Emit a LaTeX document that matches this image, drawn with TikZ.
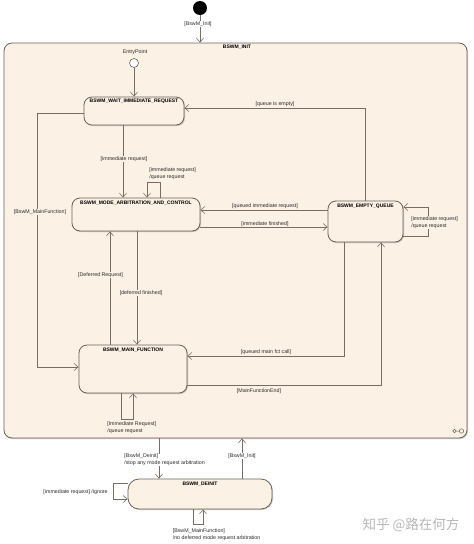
\documentclass[tikz,border=0pt]{standalone}
\usepackage{fontspec}
\setmainfont{Liberation Sans}
\newfontfamily\cjk{Noto Sans CJK SC}
\usetikzlibrary{arrows.meta,shadows}
\definecolor{linec}{HTML}{776D62}
\definecolor{bord}{HTML}{6B6258}
\definecolor{bgc}{HTML}{FBF1E5}
\definecolor{txt}{HTML}{2B2B2B}
\begin{document}
\begin{tikzpicture}[x=1pt,y=-1pt,
 state/.style={draw=bord, line width=0.8pt, fill=bgc, rounded corners=8pt, rectangle, inner sep=0pt,
   drop shadow={shadow xshift=1pt,shadow yshift=-1pt,fill=black!45,opacity=0.45}},
 title/.style={font=\fontsize{5}{6}\selectfont\bfseries, text=black, inner sep=0pt, anchor=north},
 lab/.style={font=\fontsize{5.3}{6.8}\selectfont, text=txt, inner sep=0.6pt, align=left},
 labf/.style={lab, fill=bgc},
 labw/.style={lab, fill=white},
 arr/.style={draw=linec, line width=0.6pt, -{Straight Barb[length=4pt,width=7pt]}},
]
\useasboundingbox (0,0) rectangle (474,544);
\fill[white] (0,0) rectangle (474,544);

% helper coordinates
\foreach \n/\v in {c37/37,c110/110,c113/113,c121/121,c123/123,c133/133,c137/137,c147/147,c159/159,c160/160,c193/193,c203/203,c242/242,c344/344,c381/381,c428/428}
  {\coordinate (\n) at (\v,0);}
\foreach \n/\v in {r108/108,r113/113,r182/182,r207/207,r210/210,r227/227,r236/236,r356/356,r367/367,r385/385,r419/419,r483/483,r499/499,r524/524}
  {\coordinate (\n) at (0,\v);}

% composite state
\node[state, minimum width=463pt, minimum height=395pt] (init) at (235.5,240.5) {};
\node[title] (initT) at (237,45) {BSWM\_INIT};
\draw[bord, line width=0.5pt] (454.5,431) circle[radius=1.8pt] (456.3,431) -- (459.2,431) (461.5,431) circle[radius=2.2pt];

% pseudo states
\node[circle, fill=black, minimum size=14pt, inner sep=0pt] (start) at (200,8) {};
\node[circle, draw=bord, line width=0.6pt, fill=white, minimum size=9pt, inner sep=0pt] (entry) at (134,63) {};
\node[lab] (entryL) at (135,52) {EntryPoint};

% states
\node[state, minimum width=100pt, minimum height=28pt] (wait) at (134,111) {};
\node[title] (waitT) at ([yshift=-2pt]wait.north) {BSWM\_WAIT\_IMMEDIATE\_REQUEST};
\node[state, minimum width=128pt, minimum height=33pt] (mode) at (136,214.5) {};
\node[title] (modeT) at ([yshift=-3pt]mode.north) {BSWM\_MODE\_ARBITRATION\_AND\_CONTROL};
\node[state, minimum width=75pt, minimum height=41pt] (empty) at (365.5,221.5) {};
\node[title] (emptyT) at ([yshift=-3pt]empty.north) {BSWM\_EMPTY\_QUEUE};
\node[state, minimum width=108pt, minimum height=48pt] (main) at (133,369) {};
\node[title] (mainT) at ([yshift=-3pt]main.north) {BSWM\_MAIN\_FUNCTION};
\node[state, rounded corners=11pt, minimum width=144pt, minimum height=30pt] (deinit) at (200,494) {};
\node[title] (deinitT) at ([yshift=-3pt]deinit.north) {BSWM\_DEINIT};

% connectors
\draw[arr] (start) -- (start |- init.north);
\node[labw] (l1) at (198,24) {[BswM\_Init]};

\draw[arr] (entry) -- (entry |- wait.north);

\draw[arr] (empty.north) -- (empty.north |- r108) -- (wait.east |- r108);
\node[lab] (l2) at (275,104.5) {[queue is empty]};

\draw[arr] (wait.west |- r113) -- (c37 |- r113) -- (c37 |- r367) -- (main.west |- r367);
\node[labf] (l3) at (40,212) {[BswM\_MainFunction]};

\draw[arr] (wait.south -| c123) -- (mode.north -| c123);
\node[labf] (l4) at (124,159) {[immediate request]};

\draw[arr] (mode.north -| c160) -- (c160 |- r182) -- (c147 |- r182) -- (mode.north -| c147);
\node[lab, anchor=west] (l5) at (148.5,173.5) {[immediate request]\\/queue request};

\draw[arr] (empty.west |- r210) -- (mode.east |- r210);
\node[lab] (l6) at (265,206.5) {[queued immediate request]};

\draw[arr] (mode.east |- r227) -- (empty.west |- r227);
\node[lab] (l7) at (265,224) {[immediate finished]};

\draw[arr] (empty.east |- r236) -- (c428 |- r236) -- (c428 |- r207) -- (empty.east |- r207);
\node[labf, anchor=west] (l8) at (410.5,222.5) {[immediate request]\\/queue request};

\draw[arr] (empty.south -| c344) -- (c344 |- r356) -- (main.east |- r356);
\node[lab] (l9) at (266,352.5) {[queued main fct call]};

\draw[arr] (main.east |- r385) -- (c381 |- r385) -- (empty.south -| c381);
\node[lab] (l10) at (259,391) {[MainFunctionEnd]};

\draw[arr] (main.north -| c110) -- (mode.south -| c110);
\node[labf] (l11) at (100.5,275) {[Deferred Request]};

\draw[arr] (mode.south -| c137) -- (main.north -| c137);
\node[labf] (l12) at (141,293) {[deferred finished]};

\draw[arr] (main.south -| c121) -- (c121 |- r419) -- (c133 |- r419) -- (main.south -| c133);
\node[lab, anchor=west] (l13) at (106.5,428) {[Immediate Request]\\/queue request};

\draw[arr] (init.south -| c159) -- (deinit.north -| c159);
\node[labw, anchor=west] (l14) at (123.5,460) {[BswM\_Deinit]\\/stop any mode request arbitration};

\draw[arr] (deinit.north -| c242) -- (init.south -| c242);
\node[labw] (l15) at (242,456) {[BswM\_Init]};

\draw[arr] (deinit.west |- r483) -- (c113 |- r483) -- (c113 |- r499) -- (deinit.west |- r499);
\node[lab, anchor=east] (l16) at (108.5,492) {[immediate request] /ignore};

\draw[arr] (deinit.south -| c193) -- (c193 |- r524) -- (c203 |- r524) -- (deinit.south -| c203);
\node[lab, anchor=west] (l17) at (172,534.5) {[BswM\_MainFunction]\\/no deferred mode request arbitration};

% watermark
\node[font=\cjk\fontsize{13.5}{15}\selectfont, text=black!28, inner sep=0pt] (wm) at (411,525) {知乎 @路在何方};
\end{tikzpicture}
\end{document}
